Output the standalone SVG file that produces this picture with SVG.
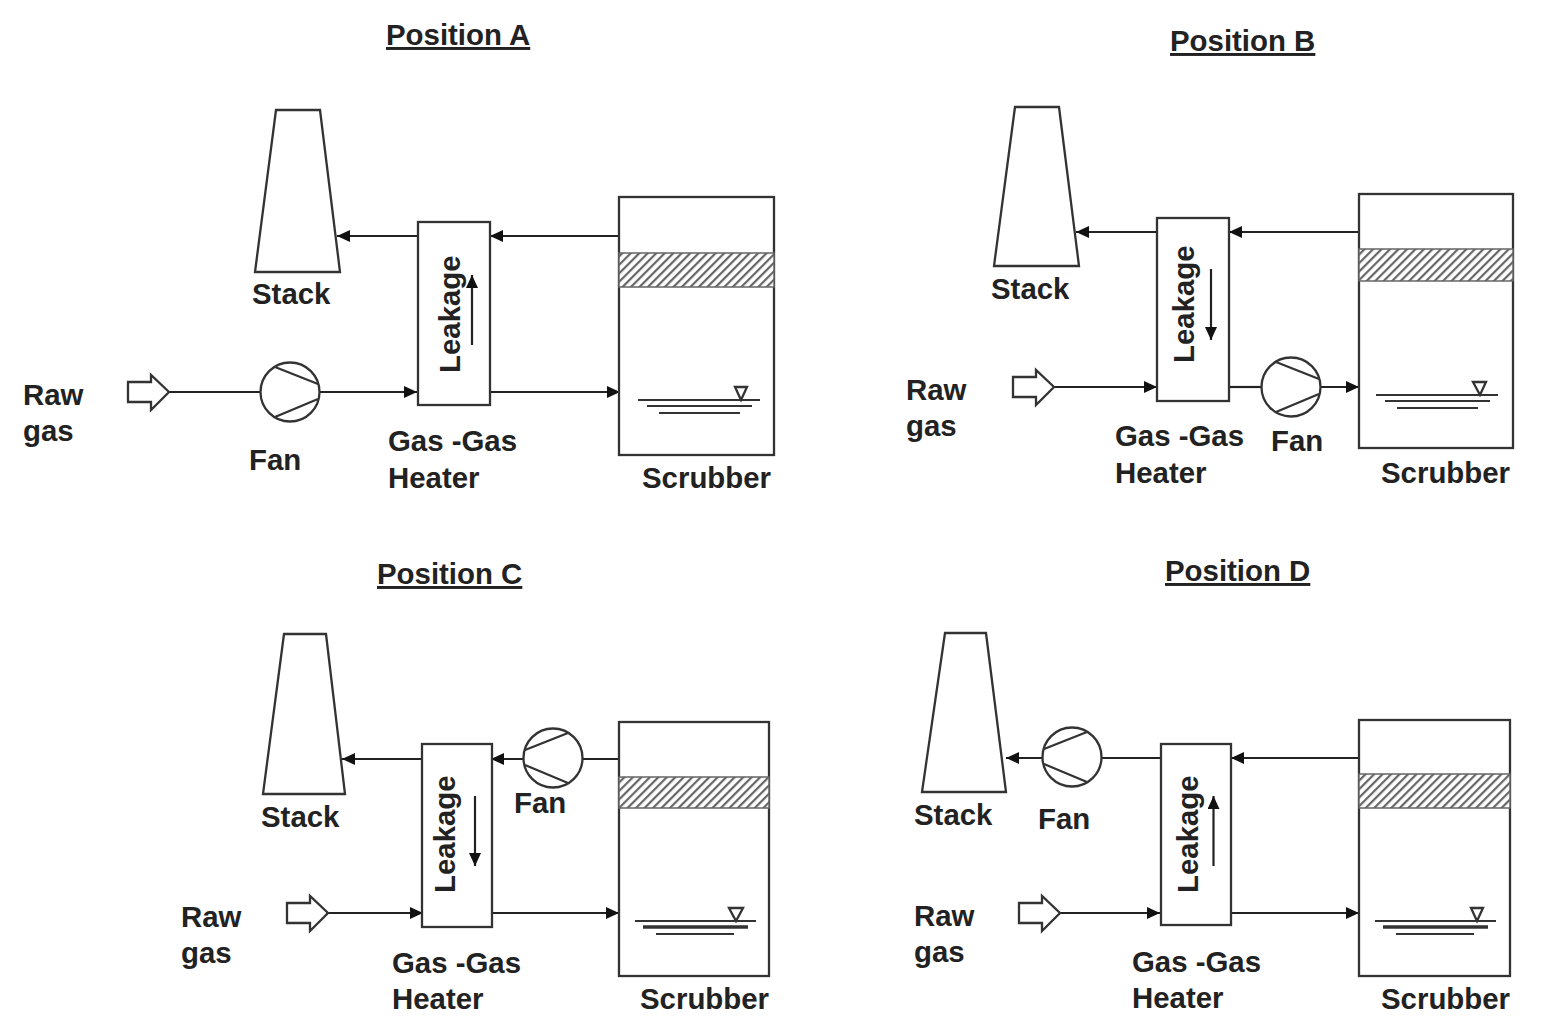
<svg xmlns="http://www.w3.org/2000/svg" xmlns:xlink="http://www.w3.org/1999/xlink" width="1542" height="1030" viewBox="0 0 1542 1030">
<style>
text{font-family:"Liberation Sans",Arial,sans-serif;font-weight:700;font-size:29.4px;fill:#222}
.title{text-decoration:underline}
.s{fill:none;stroke:#333;stroke-width:2.3}
.c{fill:none;stroke:#222;stroke-width:2.2}
.hatch{fill:url(#h);stroke:#666;stroke-width:1.5}
.th{fill:none;stroke:#333;stroke-width:2.2}
</style>
<defs>
<pattern id="h" width="6" height="6" patternUnits="userSpaceOnUse" patternTransform="rotate(45)"><rect width="6" height="6" fill="#fff"/><rect width="2.2" height="6" fill="#666"/></pattern>
<marker id="a" viewBox="0 0 13 12" refX="13" refY="6" markerWidth="13" markerHeight="12" markerUnits="userSpaceOnUse" orient="auto"><path d="M0 0L13 6L0 12Z" fill="#111"/></marker>
<g id="fan" class="s"><circle r="29.5"/><path d="M-15-25L28-8M-15 25L28 7"/></g>
<path id="raw" class="s" d="M0-10H23V-17L41 0L23 18V10H0Z"/>
<g id="level"><path class="th" d="M0 0H122M9 6H114M21 13H102"/></g>
<g id="level2"><path class="th" d="M0 0H121M21 13H99"/><path class="th" style="stroke-width:3.4" d="M8 6H113"/></g>
</defs>

<g id="connectors">
<path class="c" marker-end="url(#a)" d="M619 236H490"/>
<path class="c" marker-end="url(#a)" d="M418 236H337"/>
<path class="c" d="M169 392H260"/>
<path class="c" marker-end="url(#a)" d="M320 392H417"/>
<path class="c" marker-end="url(#a)" d="M490 392H620"/>
<path class="c" marker-end="url(#a)" d="M472 345V275"/>

<path class="c" marker-end="url(#a)" d="M1359 232H1229"/>
<path class="c" marker-end="url(#a)" d="M1157 232H1076"/>
<path class="c" marker-end="url(#a)" d="M1054 387H1157"/>
<path class="c" d="M1229 387H1261"/>
<path class="c" marker-end="url(#a)" d="M1321 387H1359"/>
<path class="c" marker-end="url(#a)" d="M1211 269V340"/>

<path class="c" d="M619 759H583"/>
<path class="c" marker-end="url(#a)" d="M524 759H491"/>
<path class="c" marker-end="url(#a)" d="M422 759H342"/>
<path class="c" marker-end="url(#a)" d="M326 913H423"/>
<path class="c" marker-end="url(#a)" d="M492 913H619"/>
<path class="c" marker-end="url(#a)" d="M475 796V866"/>

<path class="c" marker-end="url(#a)" d="M1359 758H1231"/>
<path class="c" d="M1161 758H1102"/>
<path class="c" marker-end="url(#a)" d="M1043 758H1006"/>
<path class="c" marker-end="url(#a)" d="M1059 913H1160"/>
<path class="c" marker-end="url(#a)" d="M1231 913H1359"/>
<path class="c" marker-end="url(#a)" d="M1213.5 866V796"/>
</g>

<g id="position-a">
<text class="title" x="386" y="45">Position A</text>
<g id="stack-a"><path class="s" d="M276 110H320L340 272H255Z"/><text x="252" y="304">Stack</text></g>
<g id="raw-a"><use xlink:href="#raw" href="#raw" x="128" y="392"/><text x="23" y="405">Raw</text><text x="23" y="441">gas</text></g>
<g id="fan-a"><use xlink:href="#fan" href="#fan" x="290" y="392"/><text x="249" y="470">Fan</text></g>
<g id="ggh-a"><rect class="s" x="418" y="222" width="72" height="183"/><text transform="translate(460 373) rotate(-90)">Leakage</text><text x="388" y="451">Gas -Gas</text><text x="388" y="488">Heater</text></g>
<g id="scrubber-a"><rect class="s" x="619" y="197" width="155" height="258"/><rect class="hatch" x="619" y="253" width="155" height="34"/><use xlink:href="#level" href="#level" x="638" y="400"/><path class="s" d="M735 387H747L741 400Z"/><text x="642" y="488">Scrubber</text></g>
</g>

<g id="position-b">
<text class="title" x="1170" y="51">Position B</text>
<g id="stack-b"><path class="s" d="M1015 107H1059L1079 266H994Z"/><text x="991" y="299">Stack</text></g>
<g id="raw-b"><use xlink:href="#raw" href="#raw" x="1013" y="387"/><text x="906" y="400">Raw</text><text x="906" y="436">gas</text></g>
<g id="fan-b"><use xlink:href="#fan" href="#fan" x="1291" y="387"/><text x="1271" y="451">Fan</text></g>
<g id="ggh-b"><rect class="s" x="1157" y="218" width="72" height="183"/><text transform="translate(1194 363) rotate(-90)">Leakage</text><text x="1115" y="446">Gas -Gas</text><text x="1115" y="483">Heater</text></g>
<g id="scrubber-b"><rect class="s" x="1359" y="194" width="154" height="254"/><rect class="hatch" x="1359" y="249" width="154" height="32"/><use xlink:href="#level" href="#level" x="1376" y="395"/><path class="s" d="M1473 382H1486L1480 395Z"/><text x="1381" y="483">Scrubber</text></g>
</g>

<g id="position-c">
<text class="title" x="377" y="584">Position C</text>
<g id="stack-c"><path class="s" d="M284 634H326L345 794H263Z"/><text x="261" y="827">Stack</text></g>
<g id="raw-c"><use xlink:href="#raw" href="#raw" x="287" y="913"/><text x="181" y="927">Raw</text><text x="181" y="963">gas</text></g>
<g id="fan-c"><use xlink:href="#fan" href="#fan" transform="translate(553 758) scale(-1 1)"/><text x="514" y="813">Fan</text></g>
<g id="ggh-c"><rect class="s" x="422" y="744" width="70" height="183"/><text transform="translate(455 893) rotate(-90)">Leakage</text><text x="392" y="973">Gas -Gas</text><text x="392" y="1009">Heater</text></g>
<g id="scrubber-c"><rect class="s" x="619" y="722" width="150" height="254"/><rect class="hatch" x="619" y="777" width="150" height="31"/><use xlink:href="#level2" href="#level2" x="635" y="921"/><path class="s" d="M729 908H743L736 921Z"/><text x="640" y="1009">Scrubber</text></g>
</g>

<g id="position-d">
<text class="title" x="1165" y="581">Position D</text>
<g id="stack-d"><path class="s" d="M945 633H986L1006 792H922Z"/><text x="914" y="825">Stack</text></g>
<g id="raw-d"><use xlink:href="#raw" href="#raw" x="1019" y="913"/><text x="914" y="926">Raw</text><text x="914" y="962">gas</text></g>
<g id="fan-d"><use xlink:href="#fan" href="#fan" transform="translate(1072 757) scale(-1 1)"/><text x="1038" y="829">Fan</text></g>
<g id="ggh-d"><rect class="s" x="1161" y="744" width="70" height="181"/><text transform="translate(1198 893) rotate(-90)">Leakage</text><text x="1132" y="972">Gas -Gas</text><text x="1132" y="1008">Heater</text></g>
<g id="scrubber-d"><rect class="s" x="1359" y="720" width="151" height="256"/><rect class="hatch" x="1359" y="774" width="151" height="34"/><use xlink:href="#level2" href="#level2" x="1375" y="921"/><path class="s" d="M1471 908H1483L1477 921Z"/><text x="1381" y="1009">Scrubber</text></g>
</g>
</svg>
